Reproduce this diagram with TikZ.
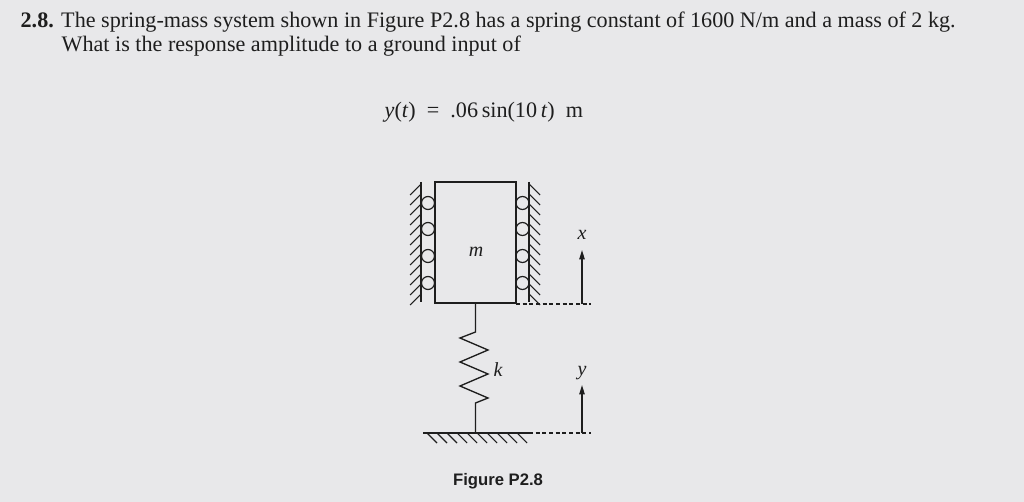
\documentclass[tikz,border=0pt]{standalone}
\usepackage{fontspec}
\setmainfont{Liberation Serif}
\newfontfamily\figfont{Liberation Sans}
\usetikzlibrary{arrows.meta}
\definecolor{bg}{RGB}{232,232,234}
\definecolor{ink}{RGB}{30,30,30}
\begin{document}
\begin{tikzpicture}[x=0.75pt,y=-0.75pt,line width=1pt,draw=ink,
  txt/.style={text=ink,inner sep=0,anchor=base west,font=\fontsize{16.6pt}{19pt}\selectfont},
  roller/.style={draw=ink,line width=0.9pt},
  arr/.style={-{Triangle[length=7pt,width=4pt]},line width=1pt},
  dsh/.style={dashed,dash pattern=on 3pt off 2pt,line width=0.9pt},
  lbl/.style={text=ink,font=\fontsize{15pt}{17pt}\selectfont\itshape}]
\fill[bg] (0,0) rectangle (1024,502);
\useasboundingbox (0,0) rectangle (1024,502);
\node[txt] (l1) at (20,28) {\textbf{2.8.} The spring-mass system shown in Figure P2.8 has a spring constant of 1600 N/m and a mass of 2 kg.};
\node[txt] (l2) at (61,52) {What is the response amplitude to a ground input of};
\node[txt] (eq) at (384,118) {\textit{y}(\textit{t})\enspace=\enspace.06\,sin(10\,\textit{t})\enspace m};
% mass
\node[draw=ink,line width=1pt,minimum width=60.75pt,minimum height=90.75pt,inner sep=0] (m) at (475.5,242.5) {};
\node[lbl] (ml) at (476,252) {m};
% walls
\draw (421,182) -- (421,302);
\foreach \yy in {184,194,...,294} \draw[line width=0.8pt] (421,\yy) -- (410,\yy+11);
\draw (529,182) -- (529,302);
\foreach \yy in {184,194,...,294} \draw[line width=0.8pt] (529,\yy) -- (540,\yy+11);
\foreach \yy in {203,229,256,283} {
  \draw[roller] (428,\yy) circle (6.5);
  \draw[roller] (522.5,\yy) circle (6.5);
}
% spring
\coordinate (s1) at (475.5,332);
\coordinate (s2) at (475.5,403);
\coordinate (g) at (475.5,433);
\draw (m.south) -- (s1) -- (460,338) -- (488,350) -- (460,362) -- (488,374) -- (460,386) -- (488,398) -- (s2) -- (g);
\node[lbl] (kl) at (498,370) {k};
% ground
\draw (423,433) -- (529,433);
\foreach \xx in {427,437,...,525} \draw[line width=0.8pt] (\xx,433) -- (\xx+10,443);
\coordinate (gd) at (591,433);
\draw[dsh] (529,433) -- (gd);
\coordinate (md) at (591,304);
\draw[dsh] (516,304) -- (md);
% arrows
\coordinate (xa0) at (582,304); \coordinate (xa1) at (582,250);
\draw[arr] (xa0) -- (xa1);
\node[lbl] (xl) at (582,235) {x};
\coordinate (ya0) at (582,433); \coordinate (ya1) at (582,385);
\draw[arr] (ya0) -- (ya1);
\node[lbl] (yl) at (582,373) {y};
\node[text=ink,font=\figfont\bfseries\fontsize{12.5pt}{14pt}\selectfont] (cap) at (498,481) {Figure P2.8};
\end{tikzpicture}
\end{document}
